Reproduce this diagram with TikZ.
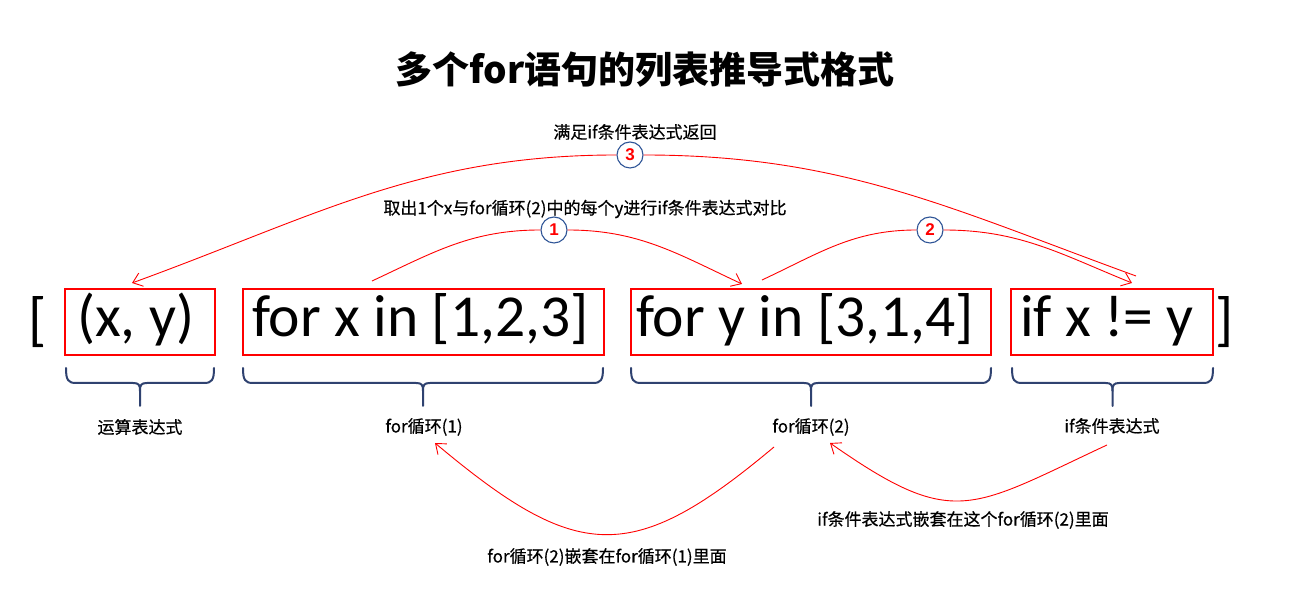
\documentclass[tikz,border=0pt]{standalone}
\usepackage{fontspec}
\setmainfont{Carlito}
\newfontfamily\cjk{Noto Sans CJK SC}
\newfontfamily\cjklab[FakeBold=0.5]{Noto Sans CJK SC}
\newfontfamily\numfont{Liberation Sans}
\usetikzlibrary{arrows.meta}
\definecolor{boxred}{HTML}{FF0000}
\definecolor{ringblue}{HTML}{2F5597}
\definecolor{bracenavy}{HTML}{2F4270}
% brace under a box: left x, right x, top y
\newcommand\ubrace[3]{\draw[brc] (#1,#3) .. controls (#1,#3-12) and (#1+2,#3-15) .. (#1+10,#3-15) -- ({(#1+#2)/2-7},#3-15) .. controls ({(#1+#2)/2-1},#3-15) and ({(#1+#2)/2},#3-17) .. ({(#1+#2)/2},#3-23) -- ({(#1+#2)/2},#3-38);
  \draw[brc] ({(#1+#2)/2},#3-23) .. controls ({(#1+#2)/2},#3-17) and ({(#1+#2)/2+1},#3-15) .. ({(#1+#2)/2+7},#3-15) -- (#2-10,#3-15) .. controls (#2-2,#3-15) and (#2,#3-12) .. (#2,#3);}

\begin{document}
\begin{tikzpicture}[x=1pt,y=1pt,
    codebox/.style={draw=boxred,line width=2.2pt,minimum height=66pt,text height=42pt,text depth=13pt,inner ysep=0pt,font=\fontsize{59.5}{59.5}\selectfont},
    lab/.style={font=\cjklab\fontsize{17}{17}\selectfont},
    num/.style={circle,draw=ringblue,line width=1.1pt,fill=white,minimum size=26pt,inner sep=0pt,text=red,font=\numfont\bfseries\fontsize{17}{17}\selectfont},
    link/.style={red,line width=0.9pt,-{Straight Barb[length=9pt,width=14pt]}},
    brc/.style={bracenavy,line width=2pt,line cap=round}]
    \useasboundingbox (0,0) rectangle (1296,609);
    \node[font=\cjk\bfseries\fontsize{37}{37}\selectfont] (title) at (645,539) {多个for语句的列表推导式格式};
    % the four parts of the comprehension
    \node[font=\fontsize{59.5}{59.5}\selectfont] (lbr) at (38,287) {[};
    \node[codebox,inner xsep=12pt] (expr) at (140,287) {\makebox[126pt][l]{(x, y)}};
    \node[codebox,inner xsep=9pt] (loopx) at (423.5,287) {\makebox[343pt][l]{for x in [1,2,3]}};
    \node[codebox,inner xsep=5pt] (loopy) at (811,287) {\makebox[350pt][l]{for y in [3,1,4]}};
    \node[codebox,inner xsep=9pt] (cond) at (1112,287) {\makebox[184pt][l]{if x != y}};
    \node[font=\fontsize{59.5}{59.5}\selectfont] (rbr) at (1225,287) {]};
    % braces and their names
    \ubrace{66}{214}{241}
    \ubrace{243}{603}{241}
    \ubrace{631}{991}{241}
    \ubrace{1012}{1213}{241}
    \node[lab] (exprlab) at (140,182) {运算表达式};
    \node[lab] (loopxlab) at (424,182) {for循环(1)};
    \node[lab] (loopylab) at (811,182) {for循环(2)};
    \node[lab] (condlab) at (1112,183) {if条件表达式};
    % steps above
    \node[lab] (backlab) at (635,477) {满足if条件表达式返回};
    \node[lab] (cmplab) at (585,400) {取出1个x与for循环(2)中的每个y进行if条件表达式对比};
    \node[num] (n1) at (554,379) {1};
    \node[num] (n2) at (930,379) {2};
    \node[num] (n3) at (630,454) {3};
    \coordinate (s1) at (372,328);
    \coordinate (e1) at (742,325);
    \coordinate (s2) at (762,329);
    \coordinate (e2) at (1132,326);
    \coordinate (s3) at (1136,333);
    \coordinate (e3) at (132,326);
    \draw[link] (s1) to[out=25,in=180] (n1) to[out=0,in=155] (e1);
    \draw[link] (s2) to[out=25,in=180] (n2) to[out=0,in=158] (e2);
    \draw[link] (s3) to[out=160,in=0] (n3) to[out=180,in=20] (e3);
    % nesting below
    \coordinate (sa) at (774,162);
    \coordinate (ea) at (435,166);
    \coordinate (sb) at (1107,164);
    \coordinate (eb) at (830,166);
    \draw[link] (sa) to[out=-140,in=-40,looseness=1.4] (ea);
    \draw[link] (sb) to[out=-155,in=-35,looseness=1.4] (eb);
    \node[lab] (nestx) at (607,52) {for循环(2)嵌套在for循环(1)里面};
    \node[lab] (nesty) at (963,89) {if条件表达式嵌套在这个for循环(2)里面};
\end{tikzpicture}
\end{document}
